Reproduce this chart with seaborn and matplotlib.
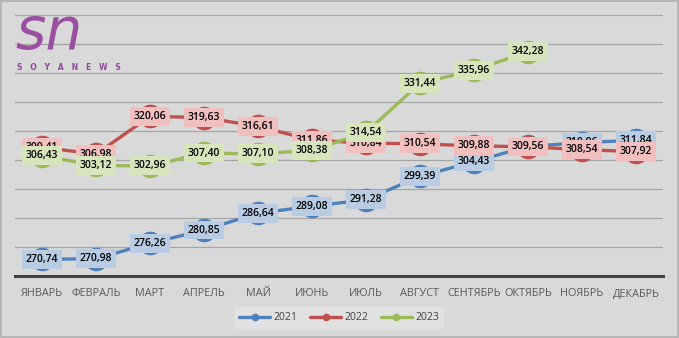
import matplotlib
matplotlib.use("Agg")
import matplotlib.pyplot as plt
from matplotlib.lines import Line2D
import seaborn as sns
import pandas as pd

months = ["ЯНВАРЬ", "ФЕВРАЛЬ", "МАРТ", "АПРЕЛЬ", "МАЙ", "ИЮНЬ", "ИЮЛЬ",
          "АВГУСТ", "СЕНТЯБРЬ", "ОКТЯБРЬ", "НОЯБРЬ", "ДЕКАБРЬ"]
y2021 = [270.74, 270.98, 276.26, 280.85, 286.64, 289.08, 291.28, 299.39,
         304.43, 309.70, 310.96, 311.84]
y2022 = [309.41, 306.98, 320.06, 319.63, 316.61, 311.86, 310.84, 310.54,
         309.88, 309.56, 308.54, 307.92]
y2023 = [306.43, 303.12, 302.96, 307.40, 307.10, 308.38, 314.54, 331.44,
         335.96, 342.28]
years = ["2021", "2022", "2023"]

series = {"2021": y2021, "2022": y2022, "2023": y2023}
colors = {"2021": "#4F81BD", "2022": "#C0504D", "2023": "#9BBB59"}
boxcolors = {"2021": "#B8CCE4", "2022": "#F2BFBF", "2023": "#D8E4BC"}

rows = []
for yr in years:
    for i, v in enumerate(series[yr]):
        rows.append({"month": i, "value": v, "year": yr})
df = pd.DataFrame(rows)

sns.set_style("white")
plt.rcParams["font.family"] = ["Open Sans", "DejaVu Sans"]

bg = "#D9D9D9"
fig = plt.figure(figsize=(6.79, 3.38), dpi=100, facecolor=bg)
ax = fig.add_axes([15 / 679, (338 - 276) / 338, 648 / 679, 261 / 338])
ax.set_facecolor(bg)

for yr in years:
    sub = df[df["year"] == yr]
    sns.lineplot(data=sub, x="month", y="value", ax=ax, color=colors[yr],
                 linewidth=2.4, marker="o", markersize=17,
                 markeredgewidth=0, zorder=3, legend=False)

for k, yr in enumerate(years):
    for i, v in enumerate(series[yr]):
        ax.text(i, v, f"{v:.2f}".replace(".", ","), ha="center", va="center",
                fontsize=7.5, fontweight="semibold", color="black",
                zorder=5 + k,
                bbox=dict(boxstyle="square,pad=0.38", fc=boxcolors[yr],
                          ec="none"))

ax.set_xlim(-0.5, 11.5)
ax.set_ylim(265, 355)
ax.set_yticks(range(265, 356, 10))
ax.set_yticklabels([])
ax.tick_params(axis="y", length=0)
ax.set_xticks(range(12))
ax.set_xticklabels(months, fontsize=7.8, color="#595959")
ax.tick_params(axis="x", length=0, pad=9)
ax.set_xlabel("")
ax.set_ylabel("")
ax.grid(axis="y", color="#A6A6A6", linewidth=0.9, zorder=0)
ax.set_axisbelow(True)
for s in ["top", "right", "left"]:
    ax.spines[s].set_visible(False)
ax.spines["bottom"].set_color("#404040")
ax.spines["bottom"].set_linewidth(2.2)

handles = [Line2D([0], [0], color=colors[yr], lw=2.4, marker="o",
                  markersize=4.5) for yr in years]
leg = fig.legend(handles, years, loc="center", bbox_to_anchor=(339 / 679, 1 - 318 / 338),
                 ncol=3, frameon=True, fontsize=7.5, handlelength=3.0,
                 columnspacing=1.2, handletextpad=0.3, borderpad=0.5)
leg.get_frame().set_facecolor("#E4E4E4")
leg.get_frame().set_edgecolor("none")
leg.get_frame().set_boxstyle("square", pad=0)
for t in leg.get_texts():
    t.set_color("#404040")

# logo
fig.text(15 / 679, 1 - 32 / 338, "sn", fontsize=42, color="#9A4FA2",
         fontstyle="italic", family="DejaVu Sans", va="center", ha="left")
fig.text(17 / 679, 1 - 67 / 338, "S   O   Y   A   N   E   W   S", fontsize=5.5,
         color="#8E4A9A", fontweight="bold", va="center", ha="left",
         family="DejaVu Sans")

# figure border
fig.patches.append(plt.Rectangle((0.001, 0.002), 0.997, 0.995,
                                 transform=fig.transFigure, fill=False,
                                 ec="#B0B0B0", lw=1.2))

fig.savefig("out.png", dpi=100, facecolor=bg)
